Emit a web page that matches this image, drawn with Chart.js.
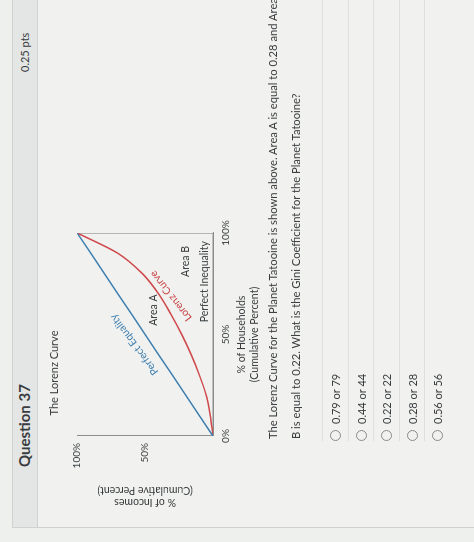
<!DOCTYPE html>
<html><head><meta charset="utf-8">
<script src="https://cdn.jsdelivr.net/npm/chart.js@4"></script>
<style>
  html,body{margin:0;padding:0;background:#e9ebea;overflow:hidden}
  #page{position:absolute;left:0;top:542px;width:542px;height:474px;transform-origin:0 0;transform:rotate(-90deg);
        background:#eef0ee;font-family:Lato,"Open Sans",sans-serif;color:#3a3d3f}
  #card{position:absolute;left:14px;top:12px;width:540px;height:470px;border:1px solid #cfd2d0;background:#f1f2f0}
  #head{position:absolute;left:0;top:0;right:0;height:24px;background:#e4e6e5;border-bottom:1px solid #cfd2d0}
  #head .q{position:absolute;left:60px;top:2px;font-size:15px;font-weight:bold}
  #head .p{position:absolute;left:455px;top:5px;font-size:11px}
  #chartBox{position:absolute;left:14px;top:21px;width:300px;height:231px}
  #qtext{position:absolute;left:88px;top:248px;width:445px;font-size:11.2px;line-height:23px}
  .opt{position:absolute;left:86px;width:450px;height:25px;border-top:1px solid #dde0de;font-size:11px;line-height:25px}
  .opt span{display:inline-block;width:9px;height:9px;border:1px solid #888;border-radius:50%;margin:0 6px 0 0;vertical-align:-1px}
</style></head>
<body>
<div id="page">
  <div id="card">
    <div id="head"><span class="q">Question 37</span><span class="p">0.25 pts</span></div>
    <div id="chartBox"><canvas id="c"></canvas></div>
    <div id="qtext">The Lorenz Curve for the Planet Tatooine is shown above. Area A is equal to 0.28 and Area B is equal to 0.22. What is the Gini Coefficient for the Planet Tatooine?</div>
  </div>
</div>
<script>
const households = [0, 10, 20, 30, 40, 50, 60, 70, 80, 90, 100];
const lorenzIncome = [0, 2, 5, 10, 16, 23, 31, 40, 52, 70, 100];
const equalityIncome = [0, 10, 20, 30, 40, 50, 60, 70, 80, 90, 100];
const inequalityX = [0, 100, 100];
const inequalityY = [0, 0, 100];
const answers = ['0.79 or 79', '0.44 or 44', '0.22 or 22', '0.28 or 28', '0.56 or 56'];

const card = document.getElementById('card');
answers.forEach((a, i) => {
  const d = document.createElement('div');
  d.className = 'opt';
  d.style.top = (309 + i * 25.5) + 'px';
  d.innerHTML = '<span></span>' + a;
  card.appendChild(d);
});

const labels = [
  {text: 'Perfect Equality', x: 45, y: 58, rot: -37, color: '#3f7fb0'},
  {text: 'Lorenz Curve', x: 69, y: 31, rot: -38, color: '#c8464a'},
  {text: 'Area A', x: 62, y: 44, rot: 0, color: '#3a3d3f'},
  {text: 'Area B', x: 86, y: 20, rot: 0, color: '#3a3d3f'},
  {text: 'Perfect Inequality', x: 76, y: 6, rot: 0, color: '#3a3d3f'}
];
const textPlugin = {
  id: 'txt',
  afterDatasetsDraw(chart) {
    const {ctx, scales: {x, y}} = chart;
    ctx.save();
    ctx.font = '10.5px Lato, sans-serif';
    ctx.textAlign = 'center';
    ctx.textBaseline = 'middle';
    labels.forEach(l => {
      ctx.save();
      ctx.translate(x.getPixelForValue(l.x), y.getPixelForValue(l.y));
      ctx.rotate(l.rot * Math.PI / 180);
      ctx.fillStyle = l.color;
      ctx.fillText(l.text, 0, 0);
      ctx.restore();
    });
    ctx.restore();
  }
};

new Chart(document.getElementById('c'), {
  type: 'scatter',
  data: {
    datasets: [
      {data: households.map((h, i) => ({x: h, y: equalityIncome[i]})), showLine: true, borderColor: '#3f7fb0', borderWidth: 1.5, pointRadius: 0},
      {data: households.map((h, i) => ({x: h, y: lorenzIncome[i]})), showLine: true, borderColor: '#cf4a4d', borderWidth: 1.5, pointRadius: 0, tension: 0.4, cubicInterpolationMode: 'monotone'},
      {data: inequalityX.map((v, i) => ({x: v, y: inequalityY[i]})), showLine: true, borderColor: '#8a8d8c', borderWidth: 1.2, pointRadius: 0}
    ]
  },
  options: {
    responsive: true, maintainAspectRatio: false, animation: false,
    layout: {padding: {right: 20}},
    plugins: {
      legend: {display: false}, tooltip: {enabled: false},
      title: {display: true, text: 'The Lorenz Curve', color: '#3a3d3f', font: {family: 'Lato', size: 11, weight: 'normal'}, padding: {top: 14, bottom: 16}}
    },
    scales: {
      x: {min: 0, max: 100, afterFit: s => { s.height = 52; },
        grid: {display: false, drawTicks: true, tickLength: 4, tickColor: '#8a8d8c'}, border: {color: '#8a8d8c'},
        afterBuildTicks: s => { s.ticks = [{value: 0}, {value: 50}, {value: 100}]; },
        ticks: {color: '#3a3d3f', font: {family: 'Lato', size: 10}, callback: v => v + '%', maxRotation: 0},
        title: {display: true, text: ['% of Households', '(Cumulative Percent)'], color: '#3a3d3f', font: {family: 'Lato', size: 10.5}, padding: {top: 2}}
      },
      y: {min: 0, max: 100, afterFit: s => { s.width = 77; },
        grid: {display: false, drawTicks: true, tickLength: 4, tickColor: '#8a8d8c'}, border: {color: '#8a8d8c'},
        afterBuildTicks: s => { s.ticks = [{value: 50}, {value: 100}]; },
        ticks: {color: '#3a3d3f', font: {family: 'Lato', size: 10}, callback: v => v + '%'},
        title: {display: true, text: ['% of Incomes', '(Cumulative Percent)'], color: '#3a3d3f', font: {family: 'Lato', size: 10.5}}
      }
    }
  },
  plugins: [textPlugin]
});
</script>
</body></html>
